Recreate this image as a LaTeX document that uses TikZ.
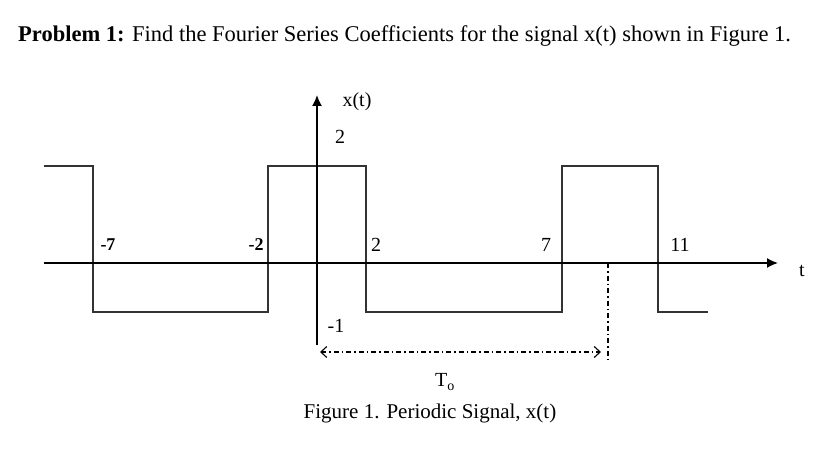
\documentclass[tikz,border=0pt]{standalone}
\usepackage{fontspec}
\setmainfont{Liberation Serif}
\usetikzlibrary{arrows.meta}
\begin{document}
\begin{tikzpicture}[x=1pt,y=-1pt,
  sig/.style={line width=1.3pt,black!80},
  axis/.style={line width=1.6pt,-{Latex[length=11pt,width=10pt]}},
  lbl/.style={font=\fontsize{20}{20}\selectfont,inner sep=0pt},
  dashdot/.style={dash pattern=on 5pt off 3pt on 1.5pt off 3pt,line width=1.1pt}]
\useasboundingbox (0,0) rectangle (838,476);
\node[anchor=west,inner sep=0pt,font=\fontsize{22.5}{22.5}\selectfont] (title) at (18,36) {\textbf{Problem 1:} Find the Fourier Series Coefficients for the signal x(t) shown in Figure 1.};
\coordinate (ts) at (44,166);
\draw[sig] (ts) -- (93,166) -- (93,312) -- (268,312) -- (268,166) -- (366,166) -- (366,312) -- (562,312) -- (562,166) -- (658,166) -- (658,312) coordinate (te) -- (708,312);
\coordinate (xs) at (44,263); \coordinate (xe) at (778,263);
\coordinate (ys) at (317,345); \coordinate (ye) at (317,95);
\draw[axis] (xs) -- (xe);
\draw[axis] (ys) -- (ye);
\node[lbl] (t) at (802,271) {t};
\node[lbl] (xt) at (357,102) {x(t)};
\node[lbl] (two) at (340,137) {2};
\node[lbl] (m1) at (336,326) {-1};
\node[lbl,font=\bfseries\fontsize{18}{18}\selectfont] (m7) at (108,245) {-7};
\node[lbl,font=\bfseries\fontsize{18}{18}\selectfont] (m2) at (256,245) {-2};
\node[lbl] (p2) at (376,245) {2};
\node[lbl] (p7) at (546,245) {7};
\node[lbl] (p11) at (680,245) {11};
\coordinate (da) at (608,263); \coordinate (db) at (608,360);
\draw[dashdot] (da) -- (db);
\coordinate (pa) at (320,352); \coordinate (pb) at (601,352);
\draw[dashdot,{Straight Barb[length=6pt,width=11pt]}-{Straight Barb[length=6pt,width=11pt]}] (pa) -- (pb);
\node[lbl] (T) at (445,382) {T\textsubscript{o}};
\node[inner sep=0pt,font=\fontsize{21}{21}\selectfont] (cap) at (430,413) {Figure 1. Periodic Signal, x(t)};
\end{tikzpicture}
\end{document}
